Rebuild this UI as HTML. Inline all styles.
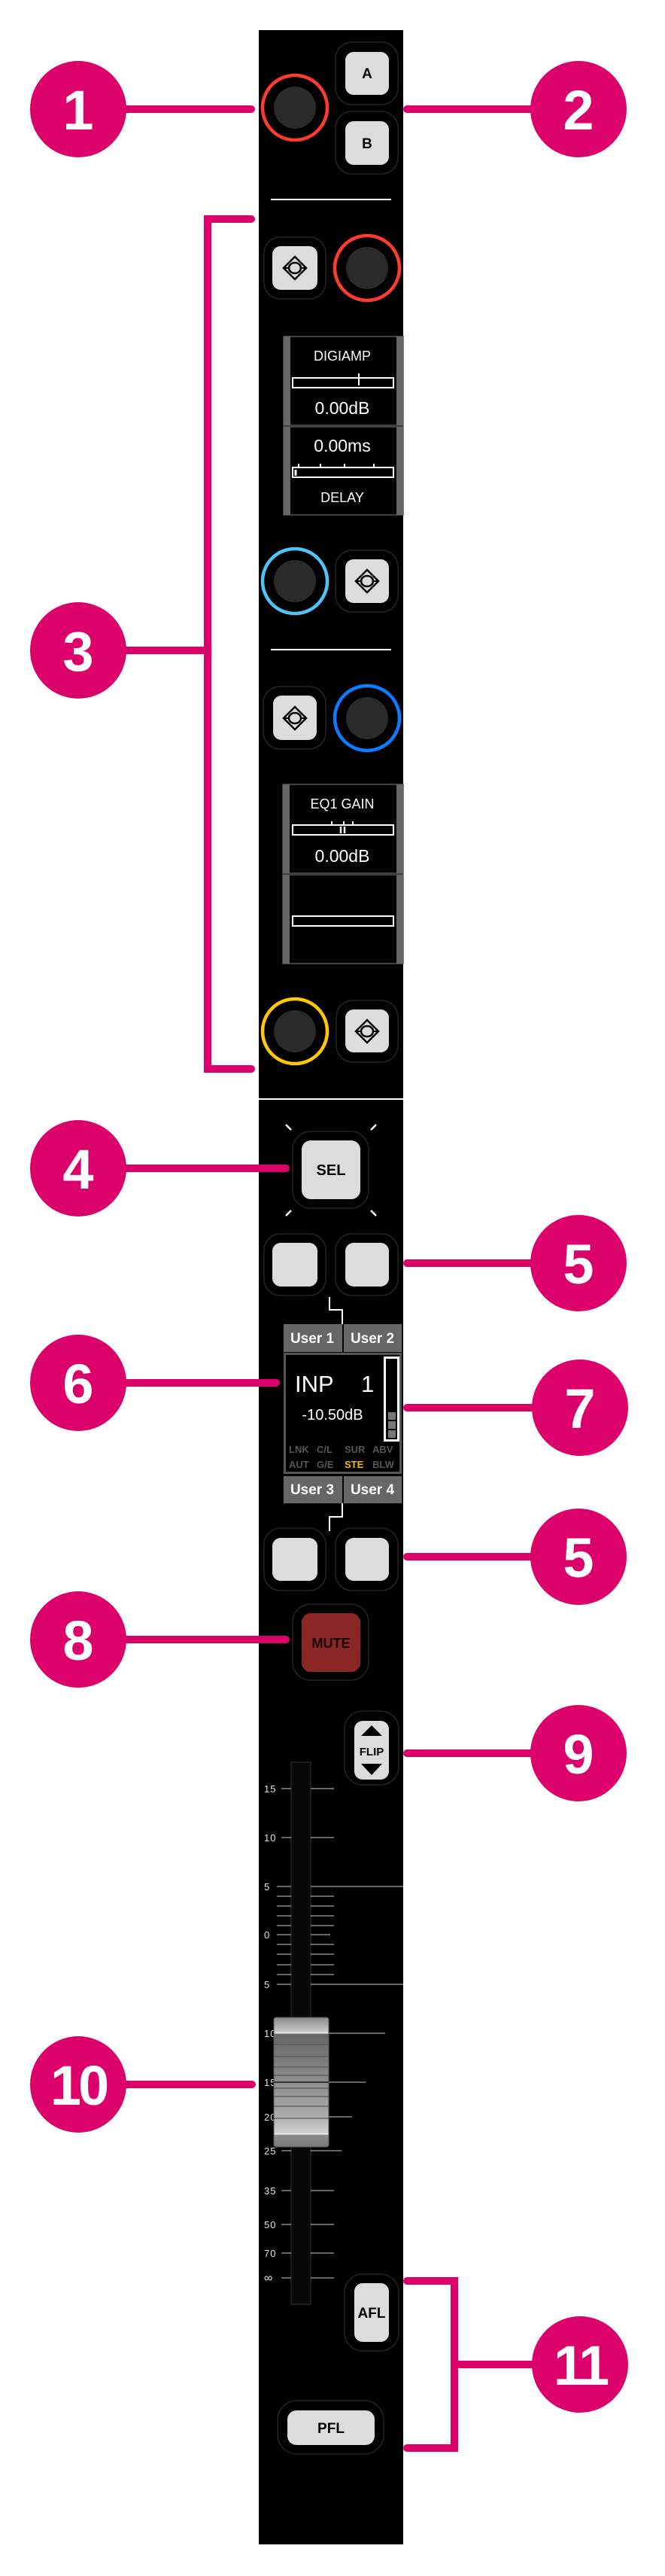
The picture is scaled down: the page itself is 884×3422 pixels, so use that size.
<!DOCTYPE html>
<html><head><meta charset="utf-8"><style>
html,body{margin:0;padding:0;background:#fff;}
svg{display:block;}
text{font-family:"Liberation Sans",sans-serif;}
</style></head><body>
<svg width="884" height="3422" viewBox="0 0 884 3422" xmlns="http://www.w3.org/2000/svg">
<defs>
<linearGradient id="cap" x1="0" y1="0" x2="0" y2="1">
<stop offset="0" stop-color="#8a8a8a"/>
<stop offset="0.11" stop-color="#c8c8c8"/>
<stop offset="0.12" stop-color="#f0f0f0"/>
<stop offset="0.13" stop-color="#666"/>
<stop offset="0.45" stop-color="#888"/>
<stop offset="0.75" stop-color="#aaa"/>
<stop offset="0.89" stop-color="#cfcfcf"/>
<stop offset="0.9" stop-color="#f0f0f0"/>
<stop offset="0.91" stop-color="#8a8a8a"/>
<stop offset="1" stop-color="#7a7a7a"/>
</linearGradient>
<g id="dia">
<polygon points="0,-15 15,0 0,15 -15,0" fill="none" stroke="#000" stroke-width="2.5"/>
<ellipse cx="0" cy="0" rx="8" ry="7" fill="none" stroke="#000" stroke-width="2.5"/>
<line x1="-15" y1="0" x2="-8" y2="0" stroke="#000" stroke-width="2"/>
<line x1="8" y1="0" x2="15" y2="0" stroke="#000" stroke-width="2"/>
</g>
</defs>

<!-- panel -->
<rect x="344" y="40" width="192" height="3340" fill="#000"/>

<!-- pink leaders -->
<g stroke="#dc006b" stroke-width="10" fill="none" stroke-linecap="round">
<line x1="160" y1="145" x2="334" y2="145"/>
<line x1="541" y1="145" x2="710" y2="145"/>
<polyline points="334,291 276,291 276,1420 334,1420" stroke-linecap="butt"/>
<line x1="334" y1="291" x2="334" y2="291"/>
<line x1="334" y1="1420" x2="334" y2="1420"/>
<line x1="160" y1="864" x2="276" y2="864"/>
<line x1="160" y1="1552" x2="380" y2="1552"/>
<line x1="541" y1="1678" x2="710" y2="1678"/>
<line x1="160" y1="1837" x2="367" y2="1837"/>
<line x1="541" y1="1870" x2="710" y2="1870"/>
<line x1="541" y1="2068" x2="710" y2="2068"/>
<line x1="160" y1="2178" x2="380" y2="2178"/>
<line x1="541" y1="2329" x2="710" y2="2329"/>
<line x1="160" y1="2769" x2="335" y2="2769"/>
<polyline points="541,3030 604,3030 604,3252 541,3252" stroke-linecap="butt"/>
<line x1="541" y1="3030" x2="541" y2="3030"/>
<line x1="541" y1="3252" x2="541" y2="3252"/>
<line x1="604" y1="3141" x2="710" y2="3141"/>
</g>

<!-- number circles -->
<g fill="#dc006b">
<circle cx="104" cy="145" r="64"/><circle cx="769" cy="145" r="64"/>
<circle cx="104" cy="864" r="64"/><circle cx="104" cy="1552" r="64"/>
<circle cx="769" cy="1678" r="64"/><circle cx="104" cy="1837" r="64"/>
<circle cx="771" cy="1870" r="64"/><circle cx="769" cy="2068" r="64"/>
<circle cx="104" cy="2178" r="64"/><circle cx="769" cy="2329" r="64"/>
<circle cx="104" cy="2769" r="64"/><circle cx="771" cy="3141" r="64"/>
</g>
<g fill="#fff" font-weight="bold" font-size="74" text-anchor="middle">
<text x="104" y="172">1</text><text x="769" y="172">2</text>
<text x="104" y="891">3</text><text x="104" y="1579">4</text>
<text x="769" y="1705">5</text><text x="104" y="1864">6</text>
<text x="771" y="1897">7</text><text x="769" y="2095">5</text>
<text x="104" y="2205">8</text><text x="769" y="2356">9</text>
<text x="104" y="2796" letter-spacing="-4">10</text><text x="771" y="3168" letter-spacing="-4">11</text>
</g>

<!-- knob 1 + A/B -->
<circle cx="392" cy="143" r="43" fill="none" stroke="#ff3b30" stroke-width="4.5"/>
<circle cx="392" cy="143" r="28" fill="#2a2a2a"/>
<g fill="#000" stroke="#242424" stroke-width="1.5">
<rect x="446" y="56" width="83" height="83" rx="22"/>
<rect x="446" y="148" width="83" height="83" rx="22"/>
</g>
<rect x="459" y="69" width="58" height="57" rx="11" fill="#dcdcdc"/>
<rect x="459" y="161" width="58" height="58" rx="11" fill="#dcdcdc"/>
<g font-weight="bold" font-size="19" text-anchor="middle" fill="#000">
<text x="488" y="104">A</text><text x="488" y="197">B</text>
</g>

<line x1="360" y1="265" x2="520" y2="265" stroke="#fff" stroke-width="2"/>

<!-- row: diamond + red knob -->
<rect x="351" y="315" width="82" height="82" rx="22" fill="#000" stroke="#242424" stroke-width="1.5"/>
<rect x="362" y="327" width="60" height="58" rx="11" fill="#dcdcdc"/>
<use href="#dia" x="392" y="356"/>
<circle cx="488" cy="356" r="43" fill="none" stroke="#ff3b30" stroke-width="4.5"/>
<circle cx="488" cy="356" r="28" fill="#2a2a2a"/>

<!-- DIGIAMP / DELAY -->
<g fill="#000" stroke="#555" stroke-width="1.5">
<rect x="377" y="447" width="159" height="118"/>
<rect x="377" y="567" width="159" height="117"/>
<rect x="376" y="1042" width="160" height="118"/>
<rect x="376" y="1162" width="160" height="118"/>
</g>
<g fill="#666">
<rect x="377" y="447" width="9" height="118"/><rect x="527" y="447" width="9" height="118"/>
<rect x="377" y="567" width="9" height="117"/><rect x="527" y="567" width="9" height="117"/>
<rect x="376" y="1042" width="9" height="118"/><rect x="527" y="1042" width="9" height="118"/>
<rect x="376" y="1162" width="9" height="118"/><rect x="527" y="1162" width="9" height="118"/>
</g>
<g fill="#fff" text-anchor="middle">
<text x="455" y="479" font-size="18">DIGIAMP</text>
<text x="455" y="550" font-size="23">0.00dB</text>
<text x="455" y="600" font-size="23">0.00ms</text>
<text x="455" y="667" font-size="18">DELAY</text>
<text x="455" y="1074" font-size="18">EQ1 GAIN</text>
<text x="455" y="1145" font-size="23">0.00dB</text>
</g>
<g fill="none" stroke="#fff" stroke-width="2">
<rect x="389" y="502" width="134" height="13"/>
<rect x="389" y="621" width="134" height="13"/>
<rect x="389" y="1096" width="134" height="13"/>
<rect x="389" y="1217" width="134" height="13"/>
</g>
<g stroke="#fff" stroke-width="2">
<line x1="477" y1="496" x2="477" y2="512"/>
<line x1="397" y1="616" x2="397" y2="621"/><line x1="426" y1="616" x2="426" y2="621"/>
<line x1="458" y1="616" x2="458" y2="621"/><line x1="497" y1="616" x2="497" y2="621"/>
<line x1="393" y1="624" x2="393" y2="632" stroke-width="3"/>
<line x1="441" y1="1091" x2="441" y2="1096"/><line x1="457" y1="1091" x2="457" y2="1096"/><line x1="469" y1="1091" x2="469" y2="1096"/>
<line x1="453" y1="1098" x2="453" y2="1107" stroke-width="2.5"/><line x1="458" y1="1098" x2="458" y2="1107" stroke-width="2.5"/>
</g>

<!-- blue-ish knob + diamond -->
<circle cx="392" cy="772" r="43" fill="none" stroke="#4ec3f7" stroke-width="4.5"/>
<circle cx="392" cy="772" r="28" fill="#2a2a2a"/>
<rect x="446" y="731" width="83" height="82" rx="22" fill="#000" stroke="#242424" stroke-width="1.5"/>
<rect x="459" y="743" width="58" height="58" rx="11" fill="#dcdcdc"/>
<use href="#dia" x="488" y="772"/>

<line x1="360" y1="863" x2="520" y2="863" stroke="#fff" stroke-width="2"/>

<rect x="350" y="912" width="83" height="83" rx="22" fill="#000" stroke="#242424" stroke-width="1.5"/>
<rect x="363" y="924" width="58" height="59" rx="11" fill="#dcdcdc"/>
<use href="#dia" x="392" y="954"/>
<circle cx="488" cy="954" r="43" fill="none" stroke="#0a7cff" stroke-width="4.5"/>
<circle cx="488" cy="954" r="28" fill="#2a2a2a"/>

<circle cx="392" cy="1370" r="43" fill="none" stroke="#ffc800" stroke-width="4.5"/>
<circle cx="392" cy="1370" r="28" fill="#2a2a2a"/>
<rect x="447" y="1329" width="82" height="82" rx="22" fill="#000" stroke="#242424" stroke-width="1.5"/>
<rect x="459" y="1341" width="58" height="57" rx="11" fill="#dcdcdc"/>
<use href="#dia" x="488" y="1370"/>

<line x1="344" y1="1460" x2="536" y2="1460" stroke="#fff" stroke-width="2"/>

<!-- SEL -->
<g stroke="#fff" stroke-width="2.5">
<line x1="380" y1="1494" x2="387" y2="1501"/><line x1="500" y1="1494" x2="493" y2="1501"/>
<line x1="380" y1="1615" x2="387" y2="1608"/><line x1="500" y1="1615" x2="493" y2="1608"/>
</g>
<rect x="389" y="1503" width="101" height="102" rx="24" fill="#000" stroke="#242424" stroke-width="1.5"/>
<rect x="401" y="1515" width="78" height="78" rx="12" fill="#dcdcdc"/>
<text x="440" y="1561" font-size="20" font-weight="bold" text-anchor="middle" fill="#000">SEL</text>

<!-- user buttons -->
<g fill="#000" stroke="#242424" stroke-width="1.5">
<rect x="351" y="1639" width="82" height="82" rx="22"/><rect x="446" y="1639" width="83" height="82" rx="22"/>
<rect x="351" y="2030" width="82" height="83" rx="22"/><rect x="446" y="2030" width="83" height="83" rx="22"/>
</g>
<g fill="#dcdcdc">
<rect x="362" y="1651" width="60" height="58" rx="11"/><rect x="459" y="1651" width="58" height="58" rx="11"/>
<rect x="362" y="2043" width="60" height="57" rx="11"/><rect x="459" y="2043" width="58" height="57" rx="11"/>
</g>
<polyline points="438,1723 438,1740 455,1740 455,1759" fill="none" stroke="#fff" stroke-width="2"/>
<polyline points="455,1997 455,2015 438,2015 438,2034" fill="none" stroke="#fff" stroke-width="2"/>

<!-- tabs -->
<g fill="#666">
<rect x="377" y="1759" width="78" height="37"/><rect x="457" y="1759" width="77" height="37"/>
<rect x="377" y="1961" width="78" height="36"/><rect x="457" y="1961" width="77" height="36"/>
</g>
<g fill="#fff" font-weight="bold" font-size="19" text-anchor="middle">
<text x="415" y="1784">User 1</text><text x="495" y="1784">User 2</text>
<text x="415" y="1985">User 3</text><text x="495" y="1985">User 4</text>
</g>

<!-- display -->
<rect x="378.5" y="1798.5" width="154" height="158" fill="#000" stroke="#555" stroke-width="3"/>
<text x="392" y="1849" font-size="31" fill="#fff">INP</text>
<text x="480" y="1849" font-size="31" fill="#fff">1</text>
<text x="442" y="1886" font-size="20" fill="#fff" text-anchor="middle">-10.50dB</text>
<rect x="511.5" y="1803.5" width="18" height="110" fill="#000" stroke="#fff" stroke-width="3"/>
<g fill="#777">
<rect x="516" y="1876" width="10" height="10"/><rect x="516" y="1888" width="10" height="10"/><rect x="516" y="1900" width="10" height="10"/>
</g>
<g font-family="Liberation Mono, monospace" font-size="13" font-weight="bold" fill="#555">
<text x="384" y="1930">LNK</text><text x="421" y="1930">C/L</text><text x="458" y="1930">SUR</text><text x="495" y="1930">ABV</text>
<text x="384" y="1950">AUT</text><text x="421" y="1950">G/E</text><text x="458" y="1950" fill="#f5b800">STE</text><text x="495" y="1950">BLW</text>
</g>

<!-- MUTE -->
<rect x="389" y="2131" width="101" height="101" rx="24" fill="#000" stroke="#242424" stroke-width="1.5"/>
<rect x="401" y="2143" width="78" height="78" rx="12" fill="#8a2626"/>
<text x="440" y="2189" font-size="18" font-weight="bold" text-anchor="middle" fill="#1a0505">MUTE</text>

<!-- FLIP -->
<rect x="458" y="2273" width="72" height="98" rx="24" fill="#000" stroke="#242424" stroke-width="1.5"/>
<rect x="471" y="2286" width="46" height="78" rx="11" fill="#dcdcdc"/>
<polygon points="494,2292 480,2306 508,2306" fill="#000"/>
<polygon points="494,2358 480,2343 508,2343" fill="#000"/>
<text x="494" y="2332" font-size="15" font-weight="bold" text-anchor="middle" fill="#000">FLIP</text>

<!-- fader track -->
<rect x="387" y="2341" width="26" height="720" fill="#080808" stroke="#333" stroke-width="1"/>
<g stroke="#888" stroke-width="1.5">
<line x1="374" y1="2376" x2="387" y2="2376"/><line x1="413" y1="2376" x2="444" y2="2376"/>
<line x1="374" y1="2441" x2="387" y2="2441"/><line x1="413" y1="2441" x2="444" y2="2441"/>
<line x1="368" y1="2506" x2="387" y2="2506"/><line x1="413" y1="2506" x2="536" y2="2506"/>
<line x1="368" y1="2519" x2="387" y2="2519"/><line x1="413" y1="2519" x2="444" y2="2519"/>
<line x1="368" y1="2532" x2="387" y2="2532"/><line x1="413" y1="2532" x2="444" y2="2532"/>
<line x1="368" y1="2545" x2="387" y2="2545"/><line x1="413" y1="2545" x2="444" y2="2545"/>
<line x1="368" y1="2558" x2="387" y2="2558"/><line x1="413" y1="2558" x2="444" y2="2558"/>
<line x1="368" y1="2570" x2="387" y2="2570"/><line x1="413" y1="2570" x2="439" y2="2570"/>
<line x1="368" y1="2583" x2="387" y2="2583"/><line x1="413" y1="2583" x2="444" y2="2583"/>
<line x1="368" y1="2596" x2="387" y2="2596"/><line x1="413" y1="2596" x2="444" y2="2596"/>
<line x1="368" y1="2610" x2="387" y2="2610"/><line x1="413" y1="2610" x2="444" y2="2610"/>
<line x1="368" y1="2623" x2="387" y2="2623"/><line x1="413" y1="2623" x2="444" y2="2623"/>
<line x1="368" y1="2636" x2="387" y2="2636"/><line x1="413" y1="2636" x2="536" y2="2636"/>
<line x1="413" y1="2701" x2="512" y2="2701"/>
<line x1="413" y1="2766" x2="486" y2="2766"/>
<line x1="413" y1="2812" x2="468" y2="2812"/>
<line x1="374" y1="2857" x2="387" y2="2857"/><line x1="413" y1="2857" x2="454" y2="2857"/>
<line x1="374" y1="2910" x2="387" y2="2910"/><line x1="413" y1="2910" x2="444" y2="2910"/>
<line x1="374" y1="2955" x2="387" y2="2955"/><line x1="413" y1="2955" x2="444" y2="2955"/>
<line x1="374" y1="2993" x2="387" y2="2993"/><line x1="413" y1="2993" x2="444" y2="2993"/>
<line x1="374" y1="3026" x2="387" y2="3026"/><line x1="413" y1="3026" x2="444" y2="3026"/>
</g>
<g fill="#e0e0e0" font-size="13" letter-spacing="1">
<text x="351" y="2381">15</text><text x="351" y="2446">10</text><text x="351" y="2511">5</text>
<text x="351" y="2575">0</text><text x="351" y="2641">5</text><text x="351" y="2706">10</text>
<text x="351" y="2771">15</text><text x="351" y="2817">20</text><text x="351" y="2862">25</text>
<text x="351" y="2915">35</text><text x="351" y="2960">50</text><text x="351" y="2998">70</text>
<text x="351" y="3031" font-size="16">∞</text>
</g>
<!-- fader cap -->
<rect x="364" y="2680" width="73" height="172" rx="3" fill="url(#cap)" stroke="#555" stroke-width="1"/>
<g stroke="#555" stroke-width="1.5" opacity="0.8">
<line x1="364" y1="2716" x2="437" y2="2716"/><line x1="364" y1="2732" x2="437" y2="2732"/>
<line x1="364" y1="2746" x2="437" y2="2746"/><line x1="364" y1="2757" x2="437" y2="2757"/>
<line x1="364" y1="2774" x2="437" y2="2774"/><line x1="364" y1="2785" x2="437" y2="2785"/>
<line x1="364" y1="2798" x2="437" y2="2798"/><line x1="364" y1="2814" x2="437" y2="2814"/>
</g>
<line x1="364" y1="2766" x2="437" y2="2766" stroke="#333" stroke-width="2"/>

<!-- AFL / PFL -->
<rect x="458" y="3021" width="72" height="102" rx="24" fill="#000" stroke="#242424" stroke-width="1.5"/>
<rect x="471" y="3033" width="46" height="78" rx="11" fill="#dcdcdc"/>
<text x="494" y="3079" font-size="19" font-weight="bold" text-anchor="middle" fill="#000">AFL</text>
<rect x="369" y="3189" width="141" height="71" rx="26" fill="#000" stroke="#242424" stroke-width="1.5"/>
<rect x="382" y="3202" width="116" height="46" rx="12" fill="#dcdcdc"/>
<text x="440" y="3232" font-size="19" font-weight="bold" text-anchor="middle" fill="#000">PFL</text>
</svg>
</body></html>
